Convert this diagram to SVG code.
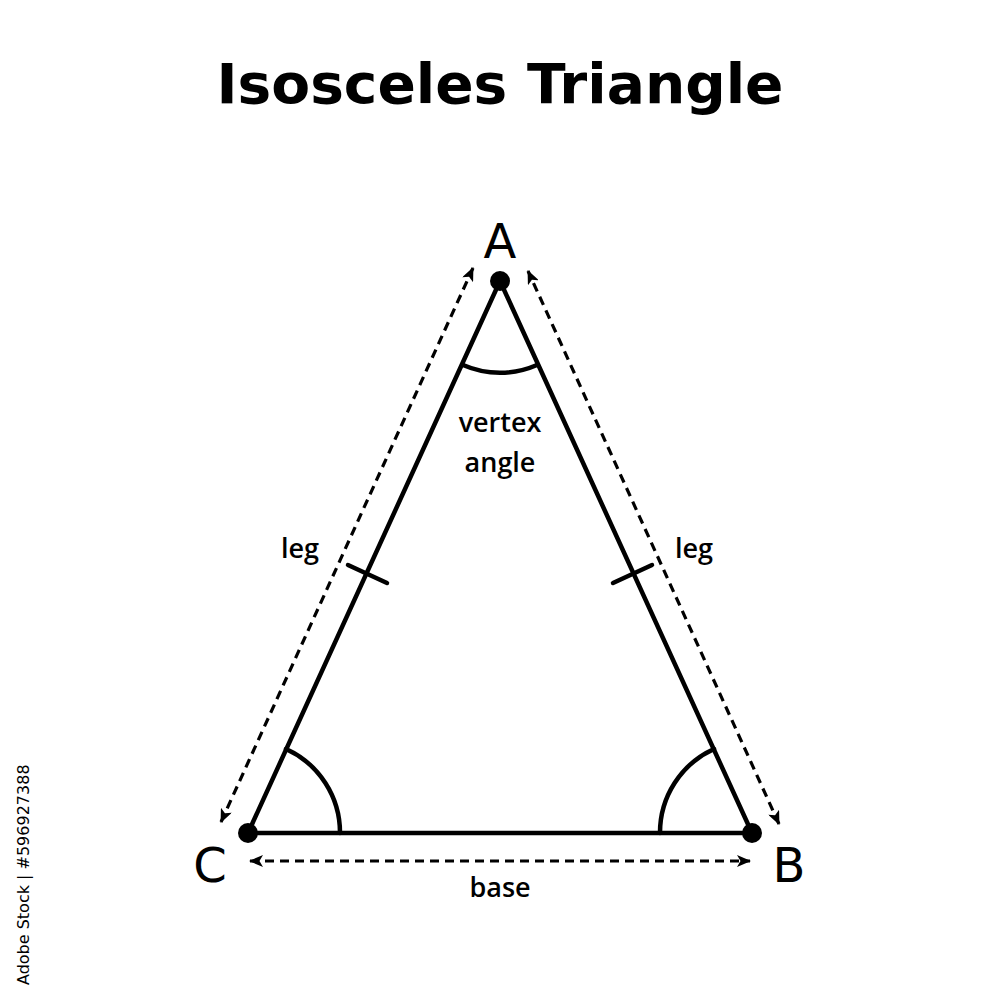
<svg xmlns="http://www.w3.org/2000/svg" width="1000" height="1000" viewBox="0 0 1000 1000">
<style>
.t{font-family:"DejaVu Sans","Liberation Sans",sans-serif;fill:#000}
.title{font-size:55px;font-weight:bold}
.v{font-size:48px}
.lbl{font-family:"Open Sans","DejaVu Sans",sans-serif;font-size:27px;font-weight:600}
.edge{stroke:#000;stroke-width:4.5;fill:none;stroke-linecap:round}
.dash{stroke:#000;stroke-width:3.2;fill:none;stroke-dasharray:9 6}
</style>
<defs>
<marker id="ah" viewBox="0 0 14 12" refX="13" refY="6" markerWidth="14" markerHeight="12" markerUnits="userSpaceOnUse" orient="auto-start-reverse">
<path d="M0,0 L14,6 L0,12 L3.5,6 Z" fill="#000"/>
</marker>
</defs>
<rect width="1000" height="1000" fill="#fff"/>
<text class="t title" x="500" y="103" text-anchor="middle" textLength="567" lengthAdjust="spacingAndGlyphs">Isosceles Triangle</text>
<g id="triangle">
<path class="edge" d="M500,281 L248,833 L752,833 Z" stroke-linejoin="round"/>
<path class="edge" d="M463,365 A92,92 0 0 0 537,365"/>
<path class="edge" d="M286,749 A92,92 0 0 1 340,833"/>
<path class="edge" d="M660,833 A92,92 0 0 1 714,749"/>
<line class="edge" x1="348" y1="565" x2="387" y2="583"/>
<line class="edge" x1="613" y1="583" x2="652" y2="565"/>
</g>
<g id="A"><circle cx="500" cy="281" r="10"/><text class="t v" x="500" y="258" text-anchor="middle">A</text></g>
<g id="B"><circle cx="752" cy="833" r="10"/><text class="t v" x="789" y="882" text-anchor="middle">B</text></g>
<g id="C"><circle cx="248" cy="833" r="10"/><text class="t v" x="210" y="882" text-anchor="middle">C</text></g>
<g id="connectors">
<line class="dash" x1="221" y1="822" x2="473" y2="268" marker-start="url(#ah)" marker-end="url(#ah)"/>
<line class="dash" x1="779" y1="824" x2="528" y2="271" marker-start="url(#ah)" marker-end="url(#ah)"/>
<line class="dash" x1="250" y1="861" x2="750" y2="861" marker-start="url(#ah)" marker-end="url(#ah)"/>
</g>
<g id="labels">
<text class="t lbl" x="500" y="432" text-anchor="middle">vertex</text>
<text class="t lbl" x="500" y="472" text-anchor="middle">angle</text>
<text class="t lbl" x="300" y="558" text-anchor="middle">leg</text>
<text class="t lbl" x="694" y="558" text-anchor="middle">leg</text>
<text class="t lbl" x="500" y="897" text-anchor="middle">base</text>
</g>
<text class="t" x="0" y="0" font-size="16" fill="#333" transform="translate(29,985) rotate(-90)">Adobe Stock | #596927388</text>
</svg>
